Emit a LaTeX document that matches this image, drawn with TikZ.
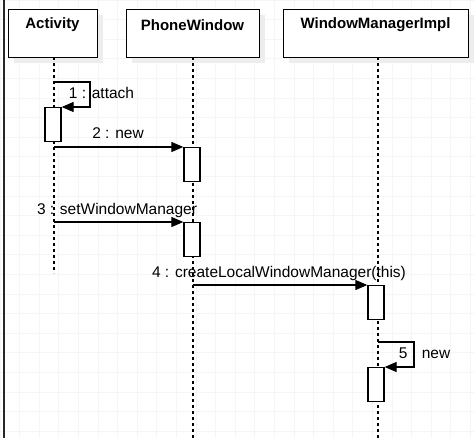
\documentclass[tikz,border=0pt]{standalone}
\usepackage{fontspec}
\setmainfont{Liberation Sans}
\usetikzlibrary{arrows.meta}
\begin{document}
\begin{tikzpicture}[x=1pt,y=-1pt,
  objbox/.style={draw=black,line width=1.4pt,fill=white,minimum height=48pt,inner sep=0pt,anchor=north west},
  objtext/.style={font=\fontsize{15}{18}\selectfont\bfseries,inner sep=0pt},
  actbox/.style={draw=black,line width=1.3pt,fill=white,minimum width=16pt,minimum height=34pt,inner sep=0pt,anchor=north},
  lifeline/.style={line width=1.2pt,dash pattern=on 3pt off 3pt},
  msg/.style={line width=1.2pt,-{Triangle[length=12pt,width=10pt]}},
  lbl/.style={font=\fontsize{15.5}{18}\selectfont,inner sep=0pt},
  shadow/.style={fill=black!7,draw=none},
  gridline/.style={black!4,line width=0.8pt}]
\useasboundingbox (0,0) rectangle (474,438);
\fill[white] (0,0) rectangle (474,438);
% grid
\foreach \i in {0,...,24} {
  \draw[gridline] ({\i*19.6},0) -- ({\i*19.6},438);
}
\foreach \i in {0,...,22} {
  \draw[gridline] (0,{\i*19.6}) -- (474,{\i*19.6});
}
% left border
\draw[black!85,line width=1.5pt] (4,0) -- (4,438);
% shadows
\fill[shadow] (14,15) rectangle (103,63);
\fill[shadow] (132,15) rectangle (265,63);
\fill[shadow] (289,15) rectangle (474,63);
% object boxes
\node[objbox,minimum width=89pt] (act) at (8,9) {};
\node[objtext] (actt) at (52.5,25) {Activity};
\node[objbox,minimum width=133pt] (pw) at (126,9) {};
\node[objtext] (pwt) at (192.5,25) {PhoneWindow};
\node[objbox,minimum width=185pt] (wmi) at (283,9) {};
\node[objtext] (wmit) at (375.5,25) {WindowManagerImpl};
% lifelines
\coordinate (actend) at (54,273);
\coordinate (pwend) at (193,438);
\coordinate (wmiend) at (378,438);
\draw[lifeline] (54,57) -- (actend);
\draw[lifeline] (193,57) -- (pwend);
\draw[lifeline] (378,57) -- (wmiend);
% activations
\node[actbox] (a1) at (53,107) {};
\node[actbox] (p1) at (192,147) {};
\node[actbox] (p2) at (192,222) {};
\node[actbox] (w1) at (376,285) {};
\node[actbox] (w2) at (376,367) {};
% message 1 (self)
\coordinate (m1s) at (54,82);
\draw[msg] (m1s) -- (90,82) -- (90,107) -- (a1.north east);
\node[lbl] (l1) at (101.5,93) {1 : attach};
% message 2
\coordinate (m2s) at (54,147);
\draw[msg] (m2s) -- (p1.north west);
\node[lbl] (l2) at (118,133) {2 : new};
% message 3
\coordinate (m3s) at (54,222);
\draw[msg] (m3s) -- (p2.north west);
\node[lbl] (l3) at (117,210) {3 : setWindowManager};
% message 4
\coordinate (m4s) at (193,285);
\draw[msg] (m4s) -- (w1.north west);
\node[lbl] (l4) at (279,273) {4 : createLocalWindowManager(this)};
% message 5 (self)
\coordinate (m5s) at (378,342);
\draw[msg] (m5s) -- (414,342) -- (414,367) -- (w2.north east);
\node[lbl] (l5) at (424.5,353) {5 : new};
\end{tikzpicture}
\end{document}
